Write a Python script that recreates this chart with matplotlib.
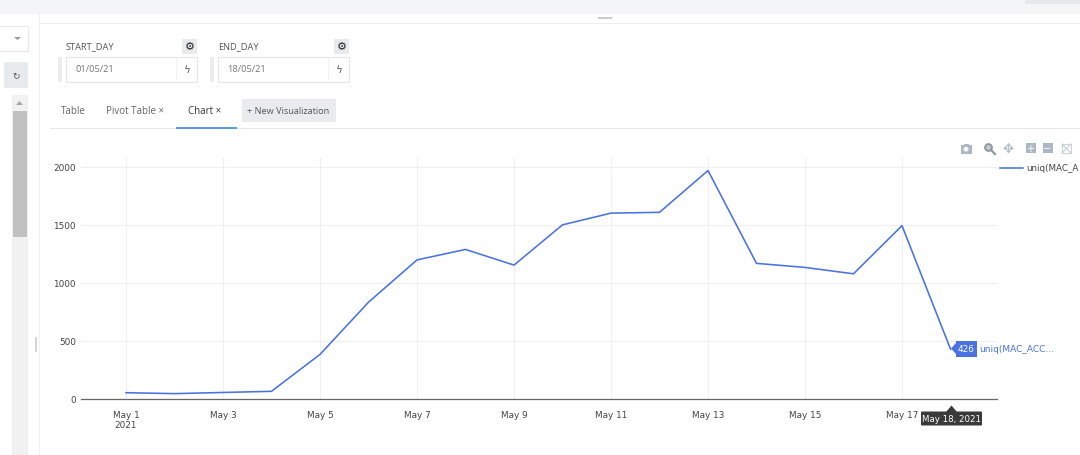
#!/usr/bin/env python
"""Captura de la vista Chart: linea diaria de uniq(MAC_ACC...) en mayo 2021."""
from datetime import datetime

import matplotlib
matplotlib.use("Agg")
import matplotlib.dates as mdates
import matplotlib.pyplot as plt
from matplotlib.patches import FancyBboxPatch, Polygon, Rectangle

W, H = 1080, 456
FONT = "Open Sans"
TICK_FONT = "DejaVu Sans"

days = list(range(1, 19))
values = [50, 42, 52, 62, 380, 830, 1195, 1285, 1150, 1497, 1598, 1605, 1965, 1165, 1130, 1075, 1490, 426]
y_ticks = [0, 500, 1000, 1500, 2000]
x_tick_days = [1, 3, 5, 7, 9, 11, 13, 15, 17]
series_name = "uniq(MAC_ACC..."
legend_name = "uniq(MAC_A"
hover_value = "426"
hover_date = "May 18, 2021"
params = [("START_DAY", "01/05/21"), ("END_DAY", "18/05/21")]
tabs = ["Table", "Pivot Table \u00d7", "Chart \u00d7"]

LINE = "#4a72e0"
GRID = "#f0f0f0"
TXT = "#555555"

dates = [datetime(2021, 5, d) for d in days]

fig = plt.figure(figsize=(W / 100, H / 100), dpi=100, facecolor="white")

# --------------------------------------------------------------- chart
L, R, T, B = 81, 997, 158, 399
ax = fig.add_axes([L / W, 1 - (B + 0.5) / H, (R - L) / W, (B - T) / H])
px_day = 48.5
x0 = mdates.date2num(datetime(2021, 5, 1))
ax.set_xlim(x0 - (126 - L) / px_day, x0 + (R - 126) / px_day)
ax.set_ylim(0, (B - T) / 0.116)
ax.plot(dates, values, color=LINE, lw=1.15, clip_on=False, zorder=3)
ax.set_yticks(y_ticks)
ax.set_xticks([datetime(2021, 5, d) for d in x_tick_days])
ax.set_xticklabels(["May 1\n2021"] + [f"May {d}" for d in x_tick_days[1:]])
ax.grid(True, color=GRID, lw=0.8)
ax.set_axisbelow(True)
for side in ("top", "right", "left"):
    ax.spines[side].set_visible(False)
ax.spines["bottom"].set_color("#666666")
ax.spines["bottom"].set_linewidth(0.9)
ax.tick_params(length=0, labelsize=6.4, labelcolor="#444444")
ax.tick_params(axis="x", pad=8)
ax.tick_params(axis="y", pad=3.6)
for lab in ax.get_xticklabels() + ax.get_yticklabels():
    lab.set_family(TICK_FONT)

# --------------------------------------------------------------- interfaz
ui = fig.add_axes([0, 0, 1, 1], facecolor="none")
ui.set_xlim(0, W)
ui.set_ylim(H, 0)
ui.axis("off")


def rect(x, y, w, h, fc, ec="none", lw=0.8, z=1):
    ui.add_patch(Rectangle((x, y), w, h, fc=fc, ec=ec, lw=lw, zorder=z))


def label(x, y, s, size=6.8, color=TXT, ha="left", family=FONT, z=5, **kw):
    ui.text(x, y, s, fontsize=size, color=color, ha=ha, va="center", family=family, zorder=z, **kw)


rect(0, 0, W, 15, "#f3f5f7")
rect(1025, 0, 55, 5, "#e4e9ec")
ui.plot([39, W], [23.5, 23.5], color="#eeeeee", lw=0.8)
ui.plot([39, 39], [15, H], color="#f0f0f0", lw=0.8)
rect(598, 18, 14, 2, "#cccccc")
rect(35, 338, 2, 15, "#d5d5d5")

# barra lateral
rect(-2, 27, 30, 25, "white", ec="#e8e8e8")
ui.add_patch(Polygon([[14, 38], [21, 38], [17.5, 41]], fc="#999999", ec="none"))
rect(-2, 63, 2, 26, "#e8ebee")
rect(4, 63, 24, 26, "#e8ebee")
label(16, 75.5, "\u21bb", size=6.5, color="#555555", ha="center", family="DejaVu Sans")
rect(12, 96, 16, 360, "#f1f1f1")
ui.add_patch(Polygon([[16, 106], [23, 106], [19.5, 102]], fc="#a8a8a8", ec="none"))
rect(13, 112, 14, 126, "#c1c1c1")

# parametros
for (name, val), xl in zip(params, [66, 218]):
    label(xl, 47, name, size=6.7)
    rect(xl + 116, 40, 15, 15, "#e8ebee")
    label(xl + 123.5, 47.3, "\u2699", size=8, color="#222222", ha="center", family="DejaVu Sans", fontweight="bold")
    rect(xl, 57.5, 131, 25, "white", ec="#e6e6e6")
    rect(xl - 8, 57.5, 4, 25, "#ececec")
    ui.plot([xl + 110, xl + 110], [60, 80], color="#e0e0e0", lw=0.7, ls=":")
    label(xl + 9, 70, val, size=6.7, color="#777777")
    label(xl + 120, 70, "\u03df", size=7.5, color="#666666", ha="center", family="DejaVu Sans")

# pestanas
label(61, 112, tabs[0], size=7, color="#666666")
label(106.5, 112, tabs[1], size=7, color="#666666")
label(188, 112, tabs[2], size=7, color="#333333")
rect(242, 99.5, 93.5, 23.5, "#e9ebee")
label(247, 112, "+ New Visualization", size=6.6, color="#555555")
ui.plot([50, W], [128.5, 128.5], color="#e8e8e8", lw=0.8)
ui.plot([177, 236], [128.5, 128.5], color="#4a90e2", lw=1.3)

# barra de herramientas
TOOL = "#aeb8c4"
rect(960.5, 146, 11, 8.5, TOOL)
rect(963.5, 144.5, 5, 2, TOOL)
ui.add_patch(plt.Circle((966, 150.2), 2.4, fc="white", ec="none", zorder=2))
ui.add_patch(plt.Circle((988.5, 148.5), 3.4, fc="#c4cad0", ec="#8e98a2", lw=1.4, zorder=2))
ui.plot([991, 995], [151, 155], color="#8e98a2", lw=1.6)
label(1008, 149.5, "\u2725", size=9.5, color=TOOL, ha="center", family="DejaVu Sans")
rect(1025.5, 144, 10, 10, TOOL)
rect(1042.5, 144, 10, 10, TOOL)
label(1030.5, 148.7, "+", size=7, color="white", ha="center", family="DejaVu Sans")
label(1047.5, 148.7, "\u2212", size=7, color="white", ha="center", family="DejaVu Sans")
rect(1061.5, 144.5, 9.5, 9.5, "none", ec="#c8d0d8", lw=0.8)
ui.plot([1062, 1071], [145, 154], color="#c8d0d8", lw=0.8)
ui.plot([1062, 1071], [154, 145], color="#c8d0d8", lw=0.8)

# leyenda
ui.plot([1000, 1023], [169, 169], color=LINE, lw=1.15)
label(1026, 169, legend_name, size=6.3, color="#444444", family=TICK_FONT)

# hover
ui.add_patch(Polygon([[951, 349.5], [956, 344], [956, 355]], fc=LINE, ec="none", zorder=4))
rect(956, 342, 21, 15.5, LINE, z=4)
label(966.5, 349.5, hover_value, size=6.4, color="white", ha="center", family=TICK_FONT)
label(979.5, 349.5, series_name, size=6.5, color=LINE, family=TICK_FONT)
ui.add_patch(Polygon([[946, 413], [951.5, 406.5], [957, 413]], fc="#3a3a3a", ec="none", zorder=4))
ui.add_patch(FancyBboxPatch((921, 412.5), 61, 14, boxstyle="round,pad=0,rounding_size=1", fc="#3a3a3a", ec="none", zorder=4))
label(951.5, 419.5, hover_date, size=6.2, color="white", ha="center", family=TICK_FONT)

fig.savefig("out.png", dpi=100)
